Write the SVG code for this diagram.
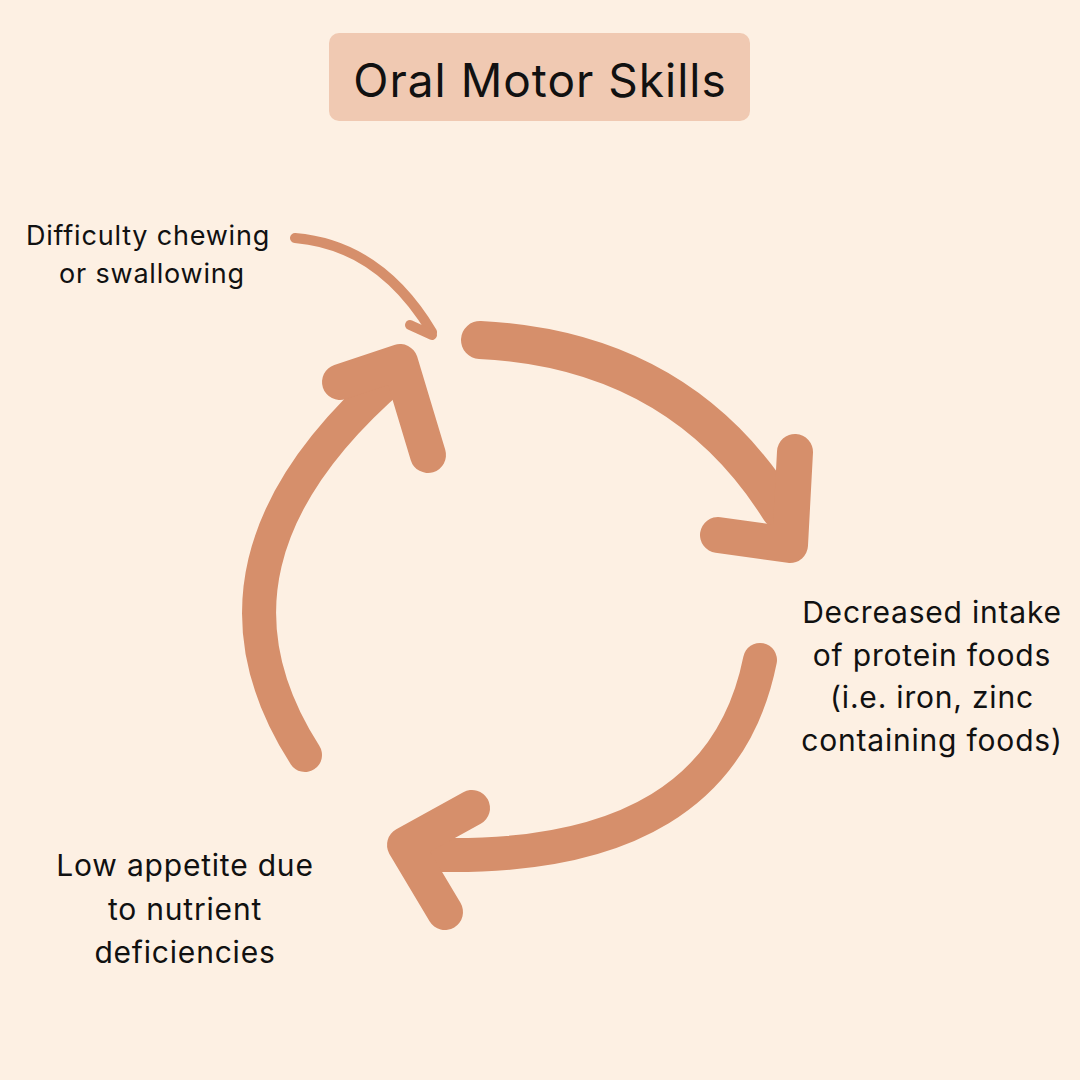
<svg xmlns="http://www.w3.org/2000/svg" width="1080" height="1080" viewBox="0 0 1080 1080">
<style>
.t{font-family:Inter,"Open Sans",sans-serif;fill:#111;font-size:30px;letter-spacing:0.8px}
.a{fill:none;stroke:#d68f6b;stroke-linecap:round;stroke-linejoin:round}
</style>
<rect width="1080" height="1080" fill="#fdf0e3"/>
<g id="title"><rect x="329" y="33" width="421" height="88" rx="10" fill="#f0c9b2"/><text x="540" y="97" text-anchor="middle" style="font-family:Inter,'Open Sans',sans-serif;font-size:46px;letter-spacing:1px;fill:#111">Oral Motor Skills</text></g>
<g id="n1" text-anchor="middle"><text class="t" x="148" y="245" style="font-size:27px">Difficulty chewing</text><text class="t" x="152" y="283" style="font-size:27px">or swallowing</text></g>
<g id="n2" text-anchor="middle"><text class="t" x="932" y="623">Decreased intake</text><text class="t" x="932" y="666">of protein foods</text><text class="t" x="932" y="708">(i.e. iron, zinc</text><text class="t" x="932" y="751">containing foods)</text></g>
<g id="n3" text-anchor="middle"><text class="t" x="185" y="876">Low appetite due</text><text class="t" x="185" y="920">to nutrient</text><text class="t" x="185" y="963">deficiencies</text></g>
<g id="connectors">
<path class="a" stroke-width="10" d="M295 238 Q380 245 432 332"/>
<path class="a" stroke-width="10" d="M410 325 L432 335"/>
<path class="a" stroke-width="38" d="M480 340 Q680 350 780 510"/>
<path class="a" stroke-width="36" d="M795 452 L790 545 L718 535"/>
<path class="a" stroke-width="34" d="M760 660 Q720 860 440 855"/>
<path class="a" stroke-width="36" d="M472 808 L405 845 L445 912"/>
<path class="a" stroke-width="34" d="M305 755 Q180 560 395 375"/>
<path class="a" stroke-width="36" d="M340 382 L400 362 L428 455"/>
</g>
</svg>
